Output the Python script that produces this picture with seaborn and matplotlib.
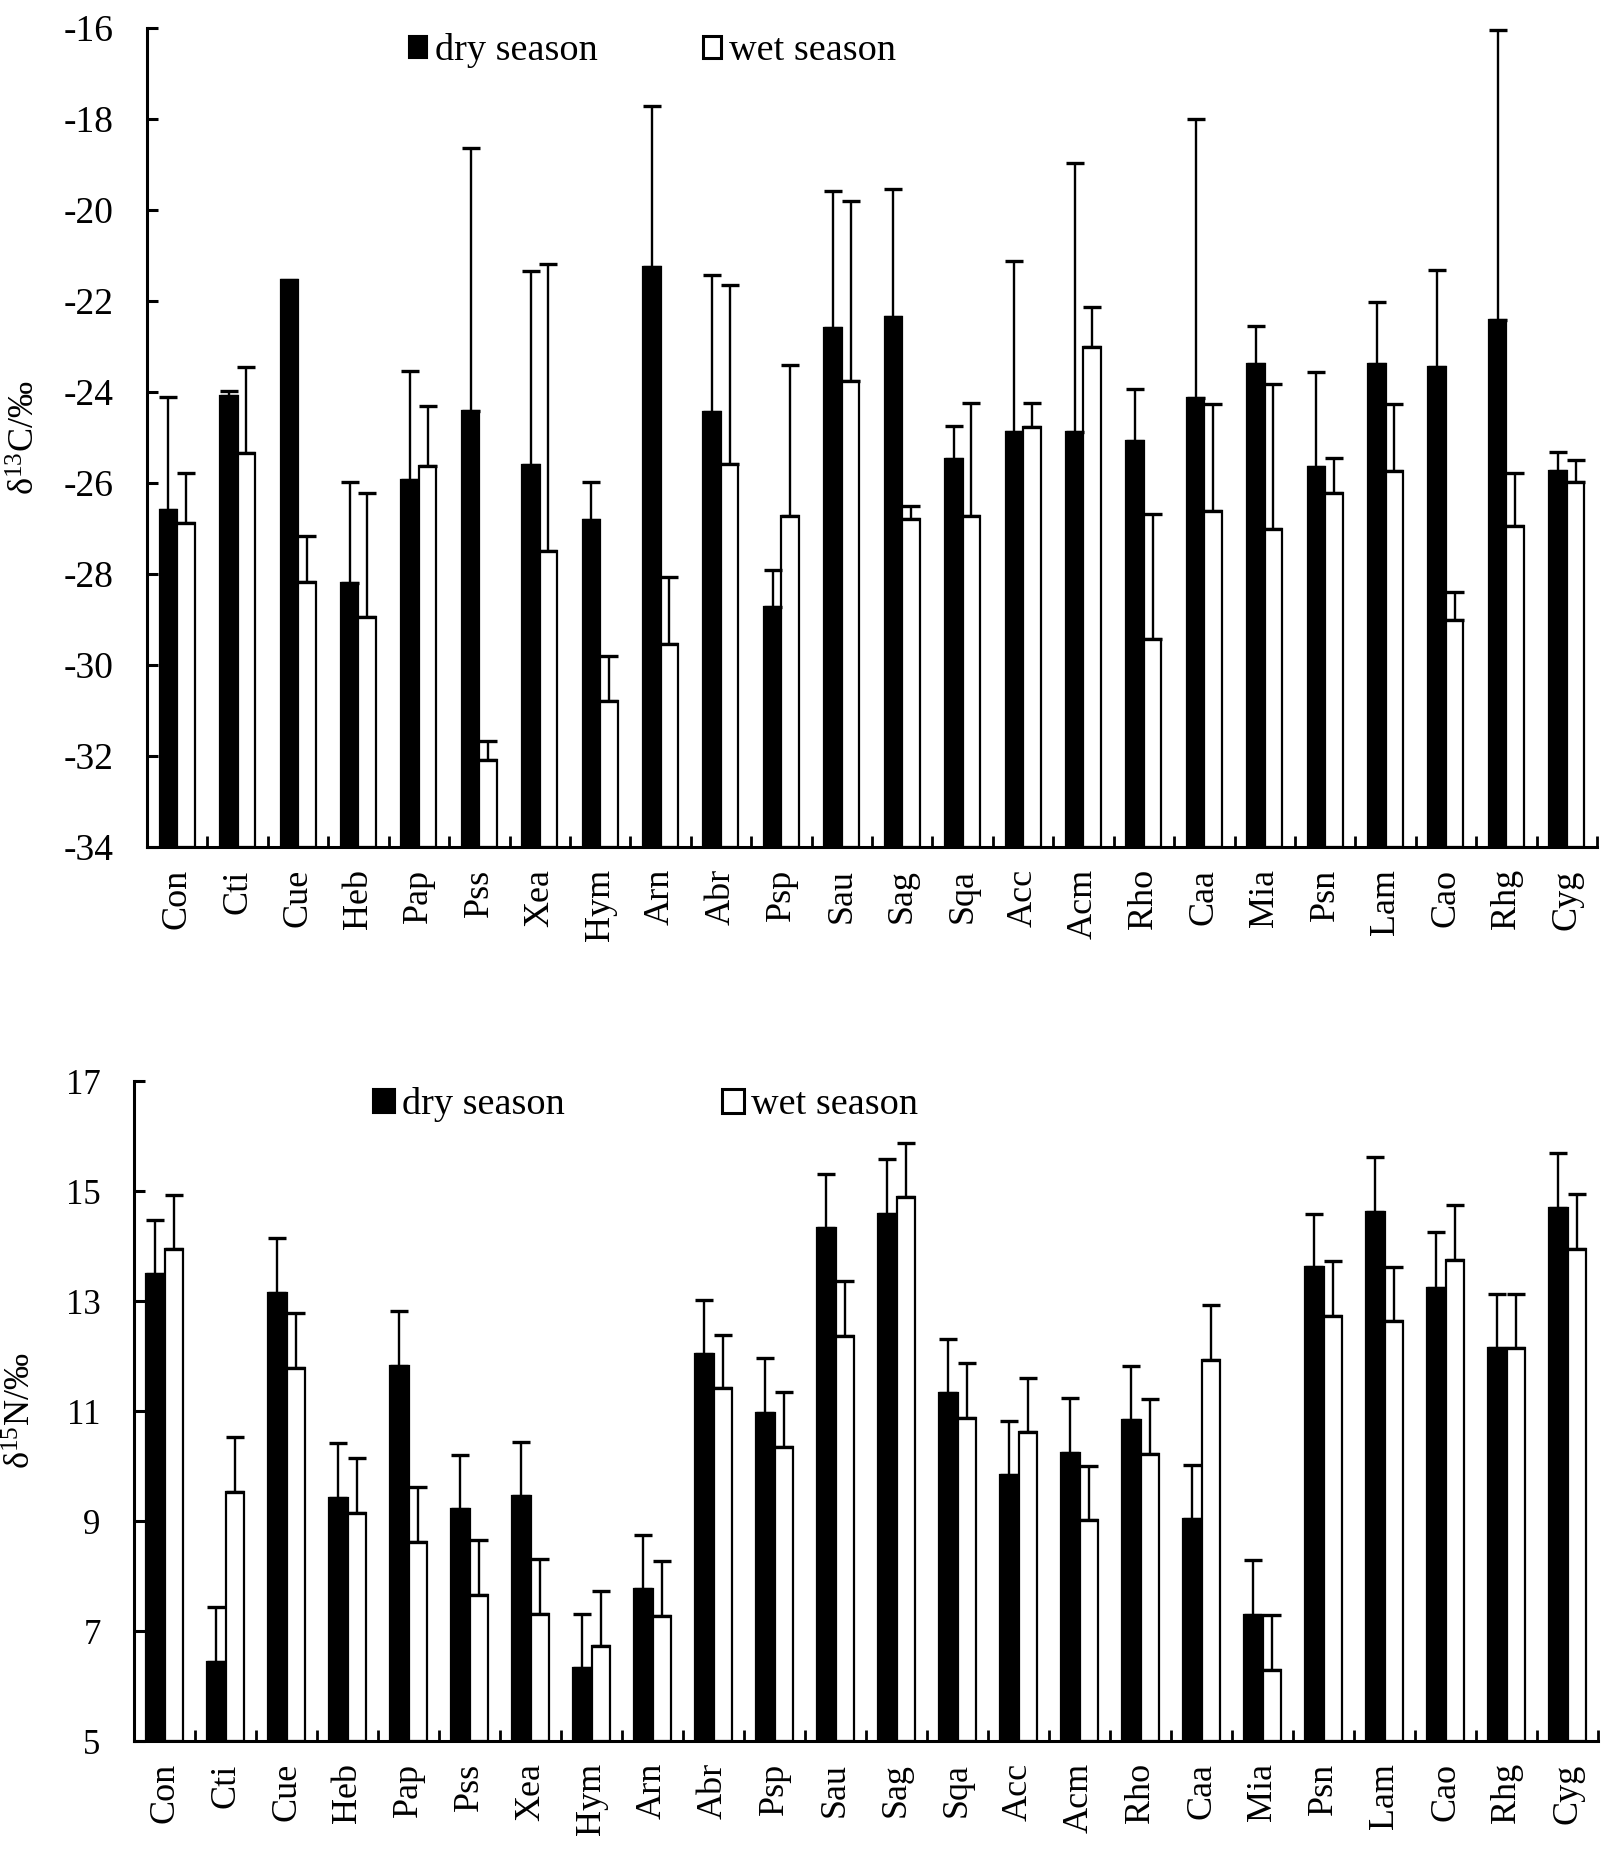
import numpy as np
import pandas as pd
import matplotlib
matplotlib.use("Agg")
import matplotlib.pyplot as plt
from matplotlib.patches import Patch
from matplotlib.ticker import FixedLocator
from matplotlib.font_manager import FontProperties
import seaborn as sns

# ---------------- data ----------------
categories = ["Con", "Cti", "Cue", "Heb", "Pap", "Pss", "Xea", "Hym", "Arn", "Abr", "Psp", "Sau",
              "Sag", "Sqa", "Acc", "Acm", "Rho", "Caa", "Mia", "Psn", "Lam", "Cao", "Rhg", "Cyg"]
seasons = ["dry season", "wet season"]

c13_dry = [-26.60, -24.08, -21.54, -28.19, -25.93, -24.41, -25.61, -26.81, -21.25, -24.43, -28.72, -22.60,
           -22.35, -25.47, -24.87, -24.87, -25.08, -24.13, -23.39, -25.64, -23.39, -23.45, -22.42, -25.73]
c13_dry_err = [2.50, 0.10, np.nan, 2.21, 2.40, 5.77, 4.27, 0.83, 3.54, 3.00, 0.80, 3.02,
               2.81, 0.73, 3.74, 5.90, 1.15, 6.14, 0.84, 2.07, 1.36, 2.14, 6.37, 0.42]
c13_wet = [-26.89, -25.33, -28.18, -28.95, -25.62, -32.08, -27.49, -30.80, -29.53, -25.58, -26.72, -23.76,
           -26.80, -26.72, -24.78, -23.02, -29.42, -26.62, -27.00, -26.23, -25.74, -29.02, -26.94, -25.98]
c13_wet_err = [1.11, 1.87, 1.02, 2.73, 1.31, 0.42, 6.30, 1.00, 1.46, 3.94, 3.32, 3.95,
               0.30, 2.47, 0.53, 0.89, 2.74, 2.35, 3.17, 0.77, 1.47, 0.63, 1.17, 0.49]

n15_dry = [13.49, 6.44, 13.15, 9.42, 11.81, 9.22, 9.45, 6.32, 7.76, 12.03, 10.97, 14.33,
           14.59, 11.32, 9.83, 10.24, 10.83, 9.04, 7.29, 13.61, 14.62, 13.24, 12.14, 14.69]
n15_dry_err = [0.98, 1.00, 1.00, 1.00, 1.00, 0.98, 0.98, 0.99, 0.99, 0.99, 0.99, 0.98,
               0.99, 0.99, 0.99, 0.99, 0.99, 0.98, 1.00, 0.98, 0.99, 1.01, 0.98, 1.00]
n15_wet = [13.94, 9.53, 11.78, 9.15, 8.62, 7.66, 7.31, 6.73, 7.28, 11.41, 10.35, 12.37,
           14.89, 10.88, 10.61, 9.01, 10.21, 11.92, 6.29, 12.72, 12.63, 13.75, 12.14, 13.95]
n15_wet_err = [0.99, 0.99, 1.00, 1.00, 1.00, 0.99, 1.00, 0.99, 1.00, 0.98, 0.99, 0.99,
               0.99, 0.99, 0.99, 0.99, 1.00, 1.00, 1.00, 1.00, 0.99, 0.99, 0.98, 0.99]

c13_ticks = [-34, -32, -30, -28, -26, -24, -22, -20, -18, -16]
n15_ticks = [5, 7, 9, 11, 13, 15, 17]

# ---------------- style ----------------
sns.set_theme(style="white")
serif = ["Liberation Serif", "DejaVu Serif"]
plt.rcParams["font.family"] = serif
plt.rcParams["axes.unicode_minus"] = False
plt.rcParams["mathtext.fontset"] = "custom"
plt.rcParams["mathtext.rm"] = "Liberation Serif"
plt.rcParams["mathtext.it"] = "Liberation Serif:italic"
plt.rcParams["mathtext.default"] = "rm"

W, H = 1617, 1855
fig = plt.figure(figsize=(W / 100, H / 100), dpi=100)
fig.patch.set_facecolor("white")


def px_axes(left, right, top, bottom):
    return fig.add_axes([left / W, 1 - bottom / H, (right - left) / W, (bottom - top) / H])


palette = {"dry season": "black", "wet season": "white"}


def panel(ax, dry, dry_err, wet, wet_err, base, top, ticks, ylabel, width,
          ytick_fs, xtick_fs, ylabel_fs, ylabel_x, leg_fs, leg_xy, leg_colsp, leg_handle):
    df = pd.DataFrame({
        "cat": categories * 2,
        "season": [seasons[0]] * len(categories) + [seasons[1]] * len(categories),
        "value": list(dry) + list(wet),
    })
    df["height"] = df["value"] - base
    sns.barplot(data=df, x="cat", y="height", hue="season", order=categories,
                hue_order=seasons, palette=palette, width=width, gap=0,
                errorbar=None, bottom=base, edgecolor="black", linewidth=1.6,
                legend=False, ax=ax, zorder=2)
    for cont, err in zip(ax.containers[:2], [dry_err, wet_err]):
        xs = [p.get_x() + p.get_width() / 2 for p in cont.patches]
        ys = [p.get_y() + p.get_height() for p in cont.patches]
        err = np.asarray(err, dtype=float)
        ax.errorbar(xs, ys, yerr=[np.zeros_like(err), err], fmt="none",
                    ecolor="black", elinewidth=1.7, capsize=6.5, capthick=2.4,
                    zorder=3, clip_on=False)
    ax.set_xlim(-0.5, len(categories) - 0.5)
    ax.set_ylim(base, top)
    ax.set_yticks(ticks)
    ax.set_yticklabels([str(t) for t in ticks])
    for s in ["top", "right"]:
        ax.spines[s].set_visible(False)
    for s in ["left", "bottom"]:
        ax.spines[s].set_linewidth(2.2)
        ax.spines[s].set_color("black")
    ax.tick_params(axis="y", direction="in", length=8, width=2.2, pad=24,
                   labelsize=ytick_fs, left=True, colors="black")
    ax.tick_params(axis="x", which="major", length=0, pad=16, labelsize=xtick_fs,
                   labelrotation=90, colors="black")
    ax.xaxis.set_minor_locator(FixedLocator(np.arange(0.5, len(categories), 1.0)))
    ax.tick_params(axis="x", which="minor", direction="in", length=8, width=2.0,
                   bottom=True, color="black")
    ax.set_xlabel("")
    ax.set_ylabel(ylabel, fontsize=ylabel_fs, color="black")
    ax.yaxis.set_label_coords(ylabel_x, 0.5)
    ax.grid(False)
    handles = [Patch(facecolor="black", edgecolor="black", linewidth=1.5, label=seasons[0]),
               Patch(facecolor="white", edgecolor="black", linewidth=2.2, label=seasons[1])]
    leg = ax.legend(handles=handles, loc="center left",
                    bbox_to_anchor=(leg_xy[0] / W, 1 - leg_xy[1] / H),
                    bbox_transform=fig.transFigure, ncol=2, frameon=False,
                    prop=FontProperties(family=serif, size=leg_fs),
                    handlelength=leg_handle, handleheight=leg_handle,
                    handletextpad=0.2, columnspacing=leg_colsp, borderpad=0,
                    borderaxespad=0)
    for t in leg.get_texts():
        t.set_color("black")


ax1 = px_axes(147, 1597, 28, 847)
panel(ax1, c13_dry, c13_dry_err, c13_wet, c13_wet_err, -34, -16, c13_ticks,
      "δ$^{13}$C/‰", 0.58, 27, 26, 26, -0.072, 27.5, (409, 51), 2.75, 0.48)

ax2 = px_axes(134, 1598, 1081, 1741)
panel(ax2, n15_dry, n15_dry_err, n15_wet, n15_wet_err, 5, 17, n15_ticks,
      "δ$^{15}$N/‰", 0.6, 25, 26, 26, -0.065, 27.5, (373, 1105), 4.1, 0.57)

fig.savefig("out.png", dpi=100, facecolor="white")
